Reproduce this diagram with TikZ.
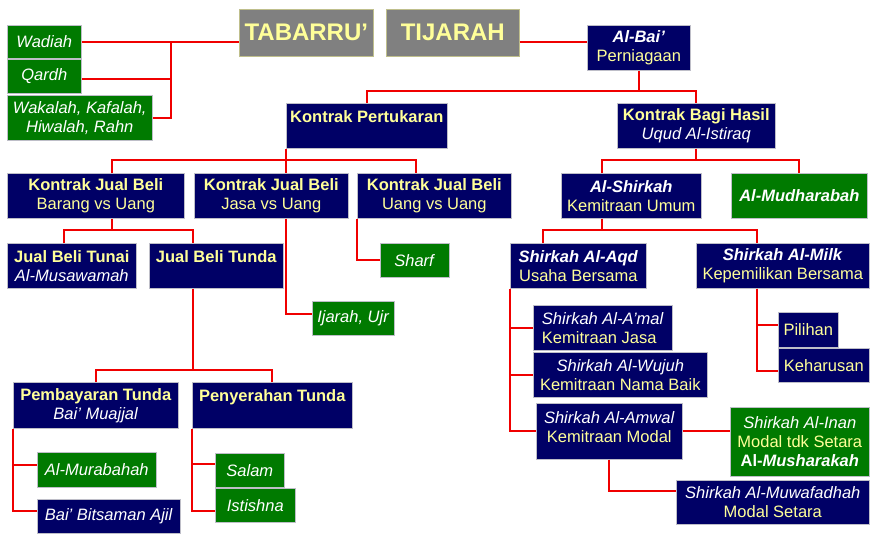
\documentclass[tikz,border=0pt]{standalone}
\usepackage{fontspec}
\setmainfont{Liberation Sans}
\usepackage{tikz}
\usetikzlibrary{positioning}
\definecolor{mnavy}{RGB}{0,0,102}
\definecolor{mgreen}{RGB}{0,122,0}
\definecolor{mgray}{RGB}{128,128,128}
\definecolor{mcream}{RGB}{255,255,153}
\definecolor{mred}{RGB}{240,0,0}
\definecolor{medge}{RGB}{190,190,200}
\newcommand{\wh}[1]{\textcolor{white}{#1}}
\tikzset{
  box/.style = {anchor = north west, inner sep = 0, align = center,
                font = \fontsize{16.5}{19}\selectfont, line width = 0.6},
  navybox/.style = {box, fill = mnavy, draw = medge, text = mcream},
  greenbox/.style = {box, fill = mgreen, draw = medge, text = white},
  graybox/.style = {box, fill = mgray, draw = mcream!50!mgray, text = mcream,
                    font = \fontsize{24}{28}\selectfont\bfseries},
  link/.style = {mred, line width = 1.8}
}

\begin{document}
\begin{tikzpicture}[x = 1pt, y = -1pt]
      \useasboundingbox (0, 0) rectangle (882, 543);
      \node [greenbox, minimum width = 74, minimum height = 33] (wadiah) at (7, 25) {\textit{Wadiah}};
      \node [greenbox, minimum width = 74, minimum height = 34] (qardh) at (7, 59) {\textit{Qardh}};
      \node [greenbox, minimum width = 145, minimum height = 45] (wakalah) at (7, 95) {\textit{Wakalah, Kafalah,}\\\textit{Hiwalah, Rahn}};
      \node [graybox, minimum width = 134, minimum height = 47] (tab) at (239, 9) {TABARRU’};
      \node [graybox, minimum width = 133, minimum height = 47] (tij) at (386, 9) {TIJARAH};
      \node [navybox, minimum width = 103, minimum height = 45] (bai) at (587, 25) {\wh{\textbf{\textit{Al-Bai’}}}\\Perniagaan};
      \node [navybox, minimum width = 161, minimum height = 45] (kp) at (286, 103) {\textbf{Kontrak Pertukaran}\\\mbox{}};
      \node [navybox, minimum width = 158, minimum height = 45] (kbh) at (617, 103) {\textbf{Kontrak Bagi Hasil}\\\wh{\textit{Uqud Al-Istiraq}}};
      \node [navybox, minimum width = 177, minimum height = 45] (kjb1) at (7, 173) {\textbf{Kontrak Jual Beli}\\Barang vs Uang};
      \node [navybox, minimum width = 154, minimum height = 45] (kjb2) at (194, 173) {\textbf{Kontrak Jual Beli}\\Jasa vs Uang};
      \node [navybox, minimum width = 154, minimum height = 45] (kjb3) at (357, 173) {\textbf{Kontrak Jual Beli}\\Uang vs Uang};
      \node [navybox, minimum width = 140, minimum height = 45] (shirkah) at (561, 173) {\wh{\textbf{\textit{Al-Shirkah}}}\\Kemitraan Umum};
      \node [greenbox, minimum width = 136, minimum height = 45] (mudh) at (731, 173) {\textbf{\textit{Al-Mudharabah}}};
      \node [navybox, minimum width = 129, minimum height = 45] (tunai) at (7, 243) {\textbf{Jual Beli Tunai}\\\wh{\textit{Al-Musawamah}}};
      \node [navybox, minimum width = 134, minimum height = 45] (tunda) at (149, 243) {\textbf{Jual Beli Tunda}\\\mbox{}};
      \node [greenbox, minimum width = 69, minimum height = 34] (sharf) at (380, 243) {\textit{Sharf}};
      \node [navybox, minimum width = 136, minimum height = 45] (aqd) at (510, 243) {\wh{\textbf{\textit{Shirkah Al-Aqd}}}\\Usaha Bersama};
      \node [navybox, minimum width = 173, minimum height = 45] (milk) at (696, 243) {\wh{\textbf{\textit{Shirkah Al-Milk}}}\\Kepemilikan Bersama};
      \node [greenbox, minimum width = 82, minimum height = 34] (ijarah) at (312, 301) {\textit{Ijarah, Ujr}};
      \node [navybox, minimum width = 139, minimum height = 45, align = left] (amal) at (533, 305) {\wh{\textit{Shirkah Al-A’mal}}\\Kemitraan Jasa};
      \node [navybox, minimum width = 60, minimum height = 35] (pilihan) at (778, 312) {Pilihan};
      \node [navybox, minimum width = 91, minimum height = 34] (keharusan) at (778, 348) {Keharusan};
      \node [navybox, minimum width = 174, minimum height = 45] (wujuh) at (533, 352) {\wh{\textit{Shirkah Al-Wujuh}}\\Kemitraan Nama Baik};
      \node [navybox, minimum width = 165, minimum height = 46] (bayar) at (13, 382) {\textbf{Pembayaran Tunda}\\\wh{\textit{Bai’ Muajjal}}};
      \node [navybox, minimum width = 160, minimum height = 46] (serah) at (192, 382) {\textbf{Penyerahan Tunda}\\\mbox{}};
      \node [navybox, minimum width = 146, minimum height = 56] (amwal) at (536, 403) {\wh{\textit{Shirkah Al-Amwal}}\\Kemitraan Modal\\[-10pt]\mbox{}};
      \node [greenbox, minimum width = 139, minimum height = 69] (inan) at (730, 407) {\textit{Shirkah Al-Inan}\\\textcolor{mcream}{Modal tdk Setara}\\\textbf{Al-\textit{Musharakah}}};
      \node [navybox, minimum width = 193, minimum height = 44] (muwaf) at (676, 480) {\wh{\textit{Shirkah Al-Muwafadhah}}\\Modal Setara};
      \node [greenbox, minimum width = 119, minimum height = 35] (murabahah) at (37, 452) {\textit{Al-Murabahah}};
      \node [greenbox, minimum width = 69, minimum height = 34] (salam) at (215, 453) {\textit{Salam}};
      \node [greenbox, minimum width = 80, minimum height = 34] (istishna) at (215, 488) {\textit{Istishna}};
      \node [navybox, minimum width = 143, minimum height = 34] (bitsaman) at (37, 499) {\wh{\textit{Bai’ Bitsaman Ajil}}};
      \coordinate (tabbus) at ([xshift = 18pt]wakalah.east);
      \draw [link] (wadiah.east) -- (wadiah.east -| tab.west);
      \draw [link] (tabbus |- wadiah.east) |- (wakalah.east);
      \draw [link] (tabbus) |- ([yshift = -3pt]qardh.east);
      \draw [link] (tij.east |- wadiah.east) -- (bai.west |- wadiah.east);
      \draw [link] (bai.south) -- ++(0, 20) -| (kp.north);
      \draw [link] (bai.south) ++(0, 20) -| (kbh.north);
      \draw [link] (kp.south west) -- (kp.south west |- kjb2.north);
      \draw [link] ([xshift = 16pt]kjb1.north) -- ++(0, -13) -| ([xshift = -18pt]kjb3.north);
      \draw [link] ([xshift = 16pt]kjb1.south) -- ++(0, 12);
      \draw [link] ([xshift = -7.5pt]tunai.north) -- ++(0, -13) -| ([xshift = -23pt]tunda.north);
      \draw [link] (kp.south west |- kjb2.south) |- ([yshift = 4pt]ijarah.west);
      \draw [link] (kjb3.south west) |- (sharf.west);
      \draw [link] ([xshift = -23pt]tunda.south) |- ([yshift = 12pt]bayar.north);
      \draw [link] (bayar.north) -- ++(0, -12) -| (serah.north);
      \draw [link] (bayar.south west) |- ([yshift = 5pt]murabahah.west);
      \draw [link] (bayar.south west) |- ([yshift = 5pt]bitsaman.west);
      \draw [link] (serah.south west) |- ([yshift = 6pt]salam.west);
      \draw [link] (serah.south west) |- ([yshift = -6pt]istishna.west);
      \draw [link] (kbh.south) -- ++(0, 12);
      \draw [link] ([xshift = -29pt]shirkah.north) -- ++(0, -13) -| (mudh.north);
      \draw [link] ([xshift = -29pt]shirkah.south) -- ++(0, 12);
      \draw [link] ([xshift = -35pt]aqd.north) -- ++(0, -13) -| ([xshift = -26pt]milk.north);
      \draw [link] (aqd.south west) |- (amal.west);
      \draw [link] (aqd.south west) |- (wujuh.west);
      \draw [link] (aqd.south west) |- (amwal.west);
      \draw [link] ([xshift = -26pt]milk.south) |- ([yshift = 5pt]pilihan.west);
      \draw [link] ([xshift = -26pt]milk.south) |- ([yshift = -6pt]keharusan.west);
      \draw [link] (amwal.east) -- (amwal.east -| inan.west);
      \draw [link] (amwal.south) |- ([yshift = 11pt]muwaf.west);
    \end{tikzpicture}
\end{document}
